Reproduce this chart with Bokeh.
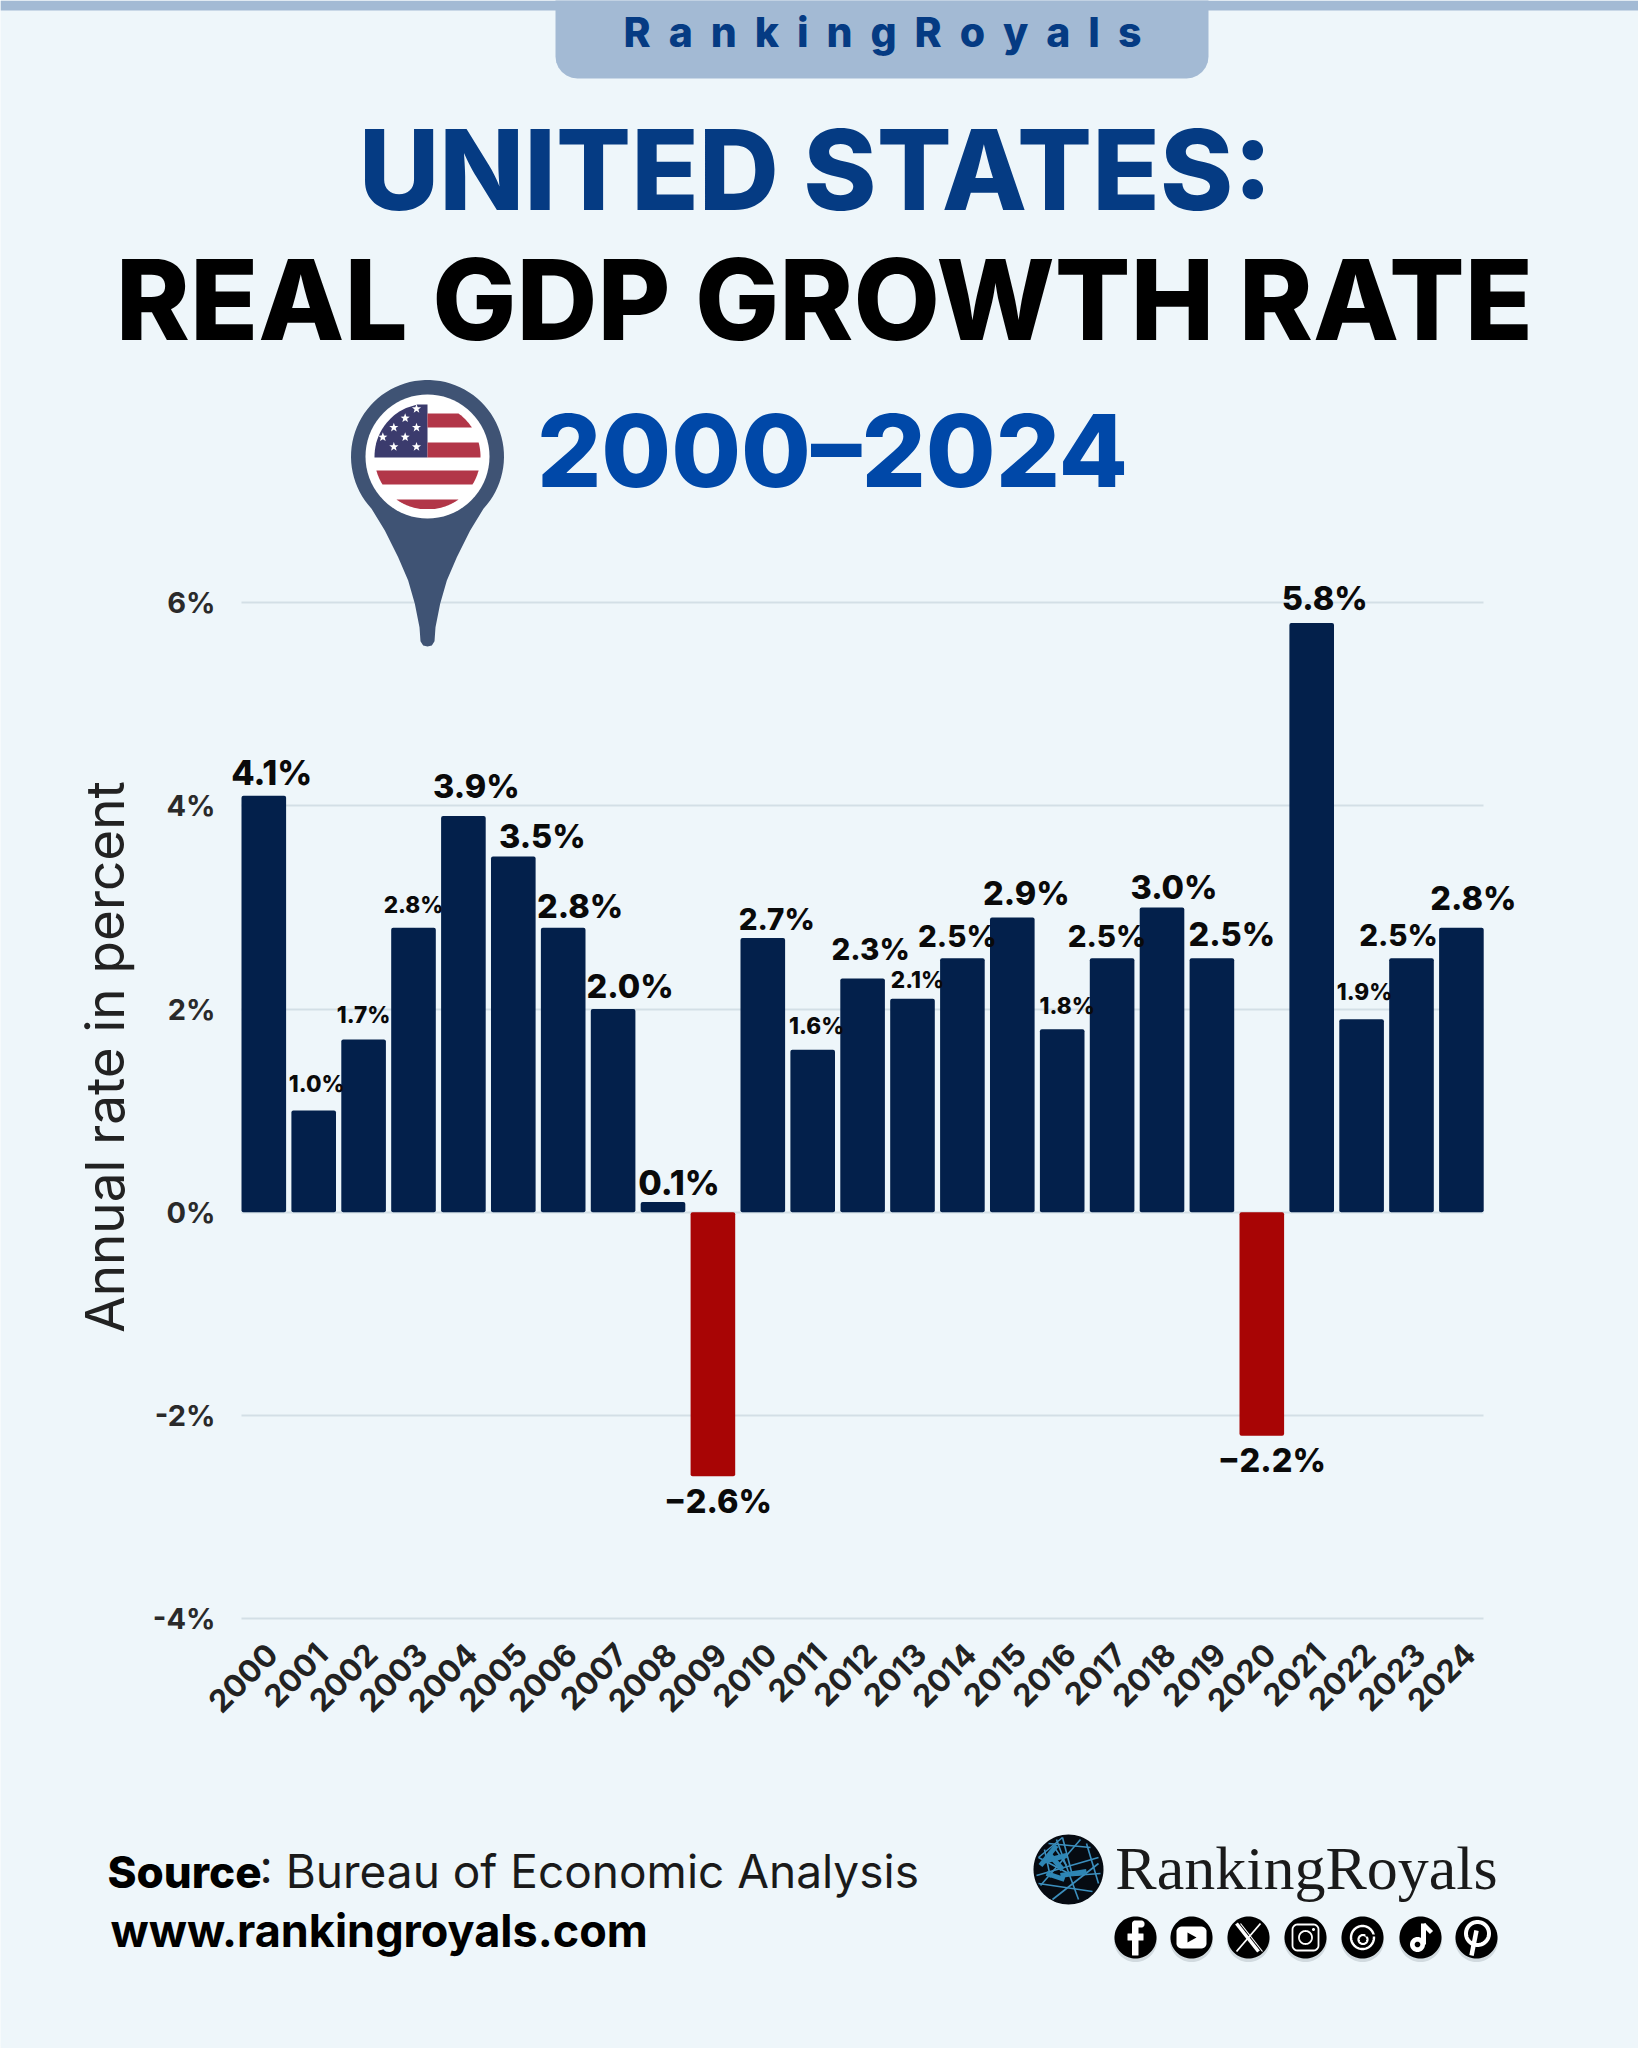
import math
import numpy as np
from bokeh.core.properties import value
from bokeh.embed import file_html
from bokeh.resources import INLINE
from bokeh.plotting import figure
from bokeh.models import (ColumnDataSource, Label, LabelSet, PolyAnnotation, Range1d,
                          FixedTicker, PrintfTickFormatter, BasicTickFormatter)

# ---------- data ----------
years = list(range(2000, 2025))
growth = [4.1, 1.0, 1.7, 2.8, 3.9, 3.5, 2.8, 2.0, 0.1, -2.6, 2.7, 1.6, 2.3, 2.1, 2.5, 2.9, 1.8, 2.5, 3.0, 2.5, -2.2, 5.8, 1.9, 2.5, 2.8]
label_shift = [8, 3, 0, 0, 13, 29, 17, 17, 16, 5, 14, 4, 8, 5, -5, 14, 5, -5, 12, 20, 10, 13, 3, -13, 12]
label_lift = [-1, 3, 1, -1, 5, -4, -3, -1, -4, 1, -5, 0, 6, -5, -2, 0, 0, -2, -4, 0, 1, 0, 4, -1, 5]
small_years = [2001, 2002, 2003, 2011, 2013, 2016, 2022]
mid_years = [2010, 2012, 2014, 2017, 2023]
wide_years = [2000, 2008]
y_ticks = [-4, -2, 0, 2, 4, 6]

BG = "#EEF6FA"; BAR = "#03204B"; RED = "#A80505"; BAND = "#A3BAD4"
FONT = "Inter"
HEAVY = "Inter ExtraBold"

# page pixel -> data helpers (decoration only)
def X(px): return 2000 + (px - 263.3) / 49.9
def Y(py): return (1211.7 - py) / 101.6

def label_size(y):
    if y in small_years: return "22.5px"
    if y in mid_years: return "29.5px"
    if y in wide_years: return "34px"
    return "32.5px"

L, R, AXIS_Y = 241.0, 1483.0, 1630.0
p = figure(width=1638, height=2048, output_backend="svg", toolbar_location=None,
           x_range=Range1d(X(0), X(1638)), y_range=Range1d(Y(2048), Y(0)),
           min_border_left=0, min_border_right=0, min_border_top=0, min_border_bottom=0,
           background_fill_color=BG, border_fill_color=BG, outline_line_color=None)
# the year labels sit a little to the right of their bars
p.extra_x_ranges["year_labels"] = Range1d(X(0) - 8 / 49.9, X(1638) - 8 / 49.9)

# ---------- axes ----------
p.xgrid.visible = False
p.ygrid.ticker = FixedTicker(ticks=y_ticks)
p.ygrid.grid_line_color = "#D3DFE6"
p.ygrid.grid_line_width = 2
p.ygrid[0].cross_bounds = (X(L), X(R))
p.yaxis.fixed_location = X(L)
p.yaxis.bounds = (-4, 7.05)
p.yaxis.ticker = FixedTicker(ticks=y_ticks)
p.yaxis.formatter = PrintfTickFormatter(format="%d%%")
p.yaxis.axis_line_color = None
p.yaxis.major_tick_line_color = None
p.yaxis.minor_tick_line_color = None
p.yaxis.major_label_text_font = FONT
p.yaxis.major_label_text_font_style = "bold"
p.yaxis.major_label_text_font_size = "29px"
p.yaxis.major_label_text_color = "#2A2A2A"
p.yaxis.major_label_standoff = 20
p.yaxis.axis_label = "Annual rate in percent"
p.yaxis.axis_label_text_font = FONT
p.yaxis.axis_label_text_font_style = "normal"
p.yaxis.axis_label_text_font_size = "53px"
p.yaxis.axis_label_text_color = "#222222"
p.yaxis.axis_label_standoff = 13

p.xaxis.fixed_location = Y(AXIS_Y)
p.xaxis[0].x_range_name = "year_labels"
p.xaxis.ticker = FixedTicker(ticks=years)
p.xaxis.formatter = BasicTickFormatter(use_scientific=False)
p.xaxis.axis_line_color = None
p.xaxis.major_tick_line_color = None
p.xaxis.minor_tick_line_color = None
p.xaxis.major_label_orientation = math.pi / 4
p.xaxis.major_label_text_font = FONT
p.xaxis.major_label_text_font_style = "bold"
p.xaxis.major_label_text_font_size = "31px"
p.xaxis.major_label_text_color = "#222222"
p.xaxis.major_label_standoff = 12

# ---------- bars ----------
src = ColumnDataSource(dict(
    year=years, value=growth,
    color=[RED if g < 0 else BAR for g in growth],
    text=[f"{g:.1f}%".replace("-", "\u2212") if g < 0 else f"{g:.1f}%" for g in growth],
    dx=label_shift,
    dy=[(-26 if g < 0 else 24) + lift for g, lift in zip(growth, label_lift)],
    size=[label_size(y) for y in years],
))
p.vbar(x="year", top="value", bottom=0, width=0.894, fill_color="color", line_color=None,
       border_radius=2, source=src)
p.add_layout(LabelSet(x="year", y="value", text="text", x_offset="dx", y_offset="dy",
                      text_font_size="size", text_font=value(HEAVY), text_font_style="normal",
                      text_color="#0A0A0A", text_align="center", text_baseline="middle", source=src))

# ---------- decoration helpers ----------
def poly(xs, ys, fill=None, line=None, lw=1, alpha=1.0):
    p.add_layout(PolyAnnotation(xs=[float(X(v)) for v in xs], ys=[float(Y(v)) for v in ys],
                                fill_color=fill, fill_alpha=alpha if fill else 0,
                                line_color=line, line_width=lw, line_alpha=1 if line else 0))

def disc(cx, cy, r, fill=None, line=None, lw=1, alpha=1.0):
    a = np.linspace(0, 2 * np.pi, 73)[:-1]
    poly(cx + r * np.cos(a), cy + r * np.sin(a), fill, line, lw, alpha)

def stroke(x1, y1, x2, y2, w, color):
    d = math.hypot(x2 - x1, y2 - y1); nx, ny = -(y2 - y1) / d * w / 2, (x2 - x1) / d * w / 2
    poly([x1 + nx, x2 + nx, x2 - nx, x1 - nx], [y1 + ny, y2 + ny, y2 - ny, y1 - ny], color)

def rrect(x0, y0, x1, y1, r, fill=None, line=None, lw=1):
    a = np.linspace(0, np.pi / 2, 7)
    xs, ys = [], []
    for cx, cy, st in [(x1 - r, y0 + r, -np.pi / 2), (x1 - r, y1 - r, 0), (x0 + r, y1 - r, np.pi / 2), (x0 + r, y0 + r, np.pi)]:
        xs += list(cx + r * np.cos(a + st)); ys += list(cy + r * np.sin(a + st))
    poly(xs, ys, fill, line, lw)

def text(px, py, s, size, color, style="bold", align="center", font=FONT, lift=0.37):
    # alphabetic labels render below the requested y by a fraction of the font size
    p.add_layout(Label(x=float(X(px)), y=float(Y(py - lift * size)), text=s, text_font=font, text_font_size=f"{size}px",
                       text_font_style=style, text_color=color, text_align=align, text_baseline="alphabetic"))

def band(cx, cy, r, y1, y2, xmin, color):
    ys = np.linspace(y1, y2, 16)
    right = cx + np.sqrt(np.maximum(r * r - (ys - cy) ** 2, 0))
    left = np.maximum(cx - np.sqrt(np.maximum(r * r - (ys - cy) ** 2, 0)), xmin)
    poly(list(right) + list(left[::-1]), list(ys) + list(ys[::-1]), color)

# ---------- header ----------
poly([0, 1638, 1638, 0], [0, 0, 10, 10], BAND)
rrect(555, -30, 1208, 78, 22, BAND)
text(882, 47, "\u00a0\u00a0".join("RankingRoyals"), 41, "#053B83", style="normal", font=HEAVY)
text(815, 210, "UNITED STATES:", 111, "#053B83", style="normal", font=HEAVY)
text(824, 340, "REAL GDP GROWTH RATE", 112, "#000000", style="normal", font=HEAVY)
text(832, 487, "2000\u20132024", 101, "#0048A8", style="normal", font=HEAVY)

# pin and flag
cx, cy = 427.0, 456.0
arc = np.radians(np.linspace(43, -223, 70))
right_side = [(450, 510), (410, 590), (380, 660), (360, 730), (346, 800), (343, 842), (335, 855), (322, 858)]
xs = [cx + 76.5 * math.cos(t) for t in arc]
ys = [cy + 76.5 * math.sin(t) for t in arc]
xs += [cx - (a - 322) / 3 for a, b in right_side] + [cx + (a - 322) / 3 for a, b in right_side[::-1]]
ys += [360 + b / 3 for a, b in right_side] + [360 + b / 3 for a, b in right_side[::-1]]
poly(xs, ys, "#3F5374")
disc(cx, cy, 62, "#FFFFFF")
ys_c = np.linspace(404, 457, 16)
xl = cx - np.sqrt(np.maximum(53 ** 2 - (ys_c - cy) ** 2, 0))
poly(list(xl) + [cx, cx], list(ys_c) + [457, 404], "#3B3B6D")
for y1, y2, xm in [(413, 427, cx), (442, 457, cx), (470, 484, 0), (499, 508.5, 0)]:
    band(cx, cy, 53, y1, y2, xm, "#B23648")
for a, b in [(288, 145), (254, 173), (220, 201), (288, 201), (187, 230), (254, 230), (220, 259), (288, 259)]:
    sx, sy = 320 + a / 3, 360 + b / 3
    t = np.radians(np.arange(0, 360, 36) - 90)
    rad = np.where(np.arange(10) % 2 == 0, 4.8, 2.0)
    poly(sx + rad * np.cos(t), sy + rad * np.sin(t), "#FFFFFF")

# ---------- footer ----------
text(107, 1888, "Source", 44, "#000000", align="left", style="normal", font=HEAVY)
text(259, 1888, ": Bureau of Economic Analysis", 46, "#1A1A1A", style="normal", align="left")
text(110, 1947, "www.rankingroyals.com", 45, "#000000", align="left")
text(1306, 1885, "RankingRoyals", 62, "#1A1A1A", style="normal", font="Liberation Serif", lift=0.29)

# logo sphere
lx, ly = 1068.0, 1869.0
disc(lx, ly, 35, "#060B12")
net = [(-30, -12, -6, -32), (-30, -12, 4, 6), (-6, -32, 4, 6), (-20, -26, 22, -22), (-32, 6, 30, -12),
       (-28, 16, 12, -30), (-12, -30, 10, 30), (-30, 14, 24, 22), (-16, 30, 30, -6), (4, 6, 32, 4),
       (-24, -20, -18, 8), (-14, -22, -2, -4), (18, -26, 30, 14)]
for a, b, c, d in net:
    stroke(lx + a, ly + b, lx + c, ly + d, 1.6, "#3C8FBE")
for a, b, c, d in [(-26, -8, -2, -14), (-20, -16, -6, 0), (-8, 6, 18, 2), (-22, 4, -4, 10), (-28, -4, -12, -24)]:
    stroke(lx + a, ly + b, lx + c, ly + d, 5, "#2E86B5")

# social icons
icon_x = [1135, 1191, 1248, 1305, 1362, 1420, 1476]
icy = 1937.0
for ix in icon_x:
    disc(ix, icy + 3, 21.5, "#9AA6AC", alpha=0.35)
    disc(ix, icy, 21, "#000000")
W = "#FFFFFF"
# facebook f
fx = icon_x[0]
rrect(fx - 3.5, icy - 17, fx + 9, icy - 10, 3, W)
rrect(fx - 3.5, icy - 14, fx + 3, icy + 18, 0.5, W)
rrect(fx - 8, icy - 4, fx + 8, icy + 3, 0.5, W)
# youtube
yx = icon_x[1]
rrect(yx - 15, icy - 11, yx + 15, icy + 11, 5, W)
poly([yx - 4, yx - 4, yx + 5], [icy - 5, icy + 5, icy], "#000000")
# X
xx = icon_x[2]
stroke(xx - 12, icy - 14, xx + 10, icy + 14, 3.5, W)
stroke(xx - 8, icy - 14, xx + 14, icy + 14, 1.2, W)
stroke(xx + 12, icy - 14, xx - 12, icy + 14, 1.8, W)
# instagram
ig = icon_x[3]
rrect(ig - 13, icy - 13, ig + 13, icy + 13, 5, None, W, 1.8)
disc(ig, icy, 6.5, None, W, 1.8)
disc(ig + 8, icy - 8, 1.5, W)
# threads
th = icon_x[4]
disc(th, icy, 11.5, None, W, 2.4)
disc(th + 0.5, icy + 2, 4.5, None, W, 2.2)
poly([th + 3, th + 14, th + 14, th + 3], [icy - 3, icy - 3, icy - 1, icy - 1], "#000000")
# tiktok
tk = icon_x[5]
stroke(tk + 3, icy - 14, tk + 3, icy + 7, 5, W)
disc(tk - 3, icy + 7, 7.5, W)
disc(tk - 3, icy + 7, 2.8, "#000000")
stroke(tk + 3, icy - 13, tk + 11, icy - 5, 4.5, W)
# pinterest
pn = icon_x[6]
disc(pn + 1, icy - 4, 11.5, None, W, 4)
stroke(pn + 0, icy - 7, pn - 5, icy + 18, 4.5, W)

open("out.html", "w").write(file_html(p, INLINE))
